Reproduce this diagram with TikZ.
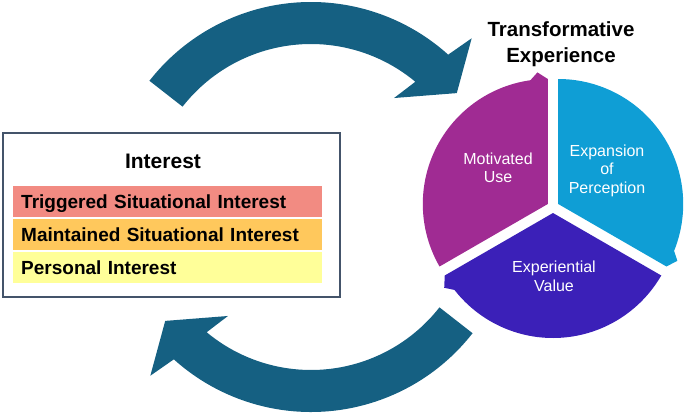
\documentclass[tikz,border=0pt]{standalone}
\usepackage{fontspec}
\setmainfont{Liberation Sans}
\usepackage{xcolor}
\usetikzlibrary{positioning}
\definecolor{cycleteal}{HTML}{156082}
\definecolor{usepurple}{HTML}{A02B93}
\definecolor{percblue}{HTML}{0F9ED5}
\definecolor{valueindigo}{HTML}{3B20B8}
\definecolor{trigred}{HTML}{F28B82}
\definecolor{maintorange}{HTML}{FFC85C}
\definecolor{persyellow}{HTML}{FFFF99}
\definecolor{boxgray}{HTML}{44546A}
\tikzset{band/.style={anchor=north west,inner xsep=8pt,inner ysep=0pt,text width=293pt,align=left,
    minimum height=31pt,text height=13.5pt,text depth=0pt,font=\fontsize{19}{22}\selectfont\bfseries}}
\tikzset{seglabel/.style={white,align=center,inner sep=0pt,font=\fontsize{16}{18.5}\selectfont}}

\begin{document}
\begin{tikzpicture}[x=1pt,y=1pt]
  \useasboundingbox (0,0) rectangle (685,-415);
  % Curved arrows
  \foreach \r in {0,180}{
    \begin{scope}[shift={(311,-207)},rotate=\r]
      \fill[cycleteal] (142:205) arc[start angle=142,end angle=48,radius=205] -- (46.4:233) -- (38:185)
        -- (52.7:137) -- (50.2:163) arc[start angle=50.2,end angle=142,radius=163] -- cycle;
    \end{scope}
  }
  % Interest box
  \node[draw=boxgray,line width=1.5pt,fill=white,minimum width=337pt,minimum height=164pt,anchor=north west]
    (box) at (2,-132) {};
  \node[anchor=base,font=\fontsize{21}{24}\selectfont\bfseries] (interest) at (163,-168) {Interest};
  \node[band,fill=trigred] (trig) at (13,-186) {Triggered Situational Interest};
  \node[band,fill=maintorange,below=1.5pt of trig] (maint) {Maintained Situational Interest};
  \node[band,fill=persyellow,below=1.5pt of maint] (pers) {Personal Interest};
  % Cycle segments
  \foreach \cx/\cy/\s/\e/\c in {547.8/-204/210/90/usepurple,558.2/-204/90/-30/percblue,553/-213/330/210/valueindigo}{
    \fill[\c,shift={(\cx,\cy)}] (0,0) -- (\e:125) -- ({\e+4.5}:132) -- ({\e+8}:125)
      arc[start angle={\e+8},end angle=\s,radius=125] -- cycle;
  }
  \node[seglabel] (use) at (498,-167.6) {Motivated\\Use};
  \node[seglabel] (perception) at (607,-170.4) {Expansion\\of\\Perception};
  \node[seglabel] (value) at (554,-276.2) {Experiential\\Value};
  \node[align=center,inner sep=0pt,font=\fontsize{20.5}{26}\selectfont\bfseries] (transform) at (561,-44.6)
    {Transformative\\Experience};
\end{tikzpicture}
\end{document}
